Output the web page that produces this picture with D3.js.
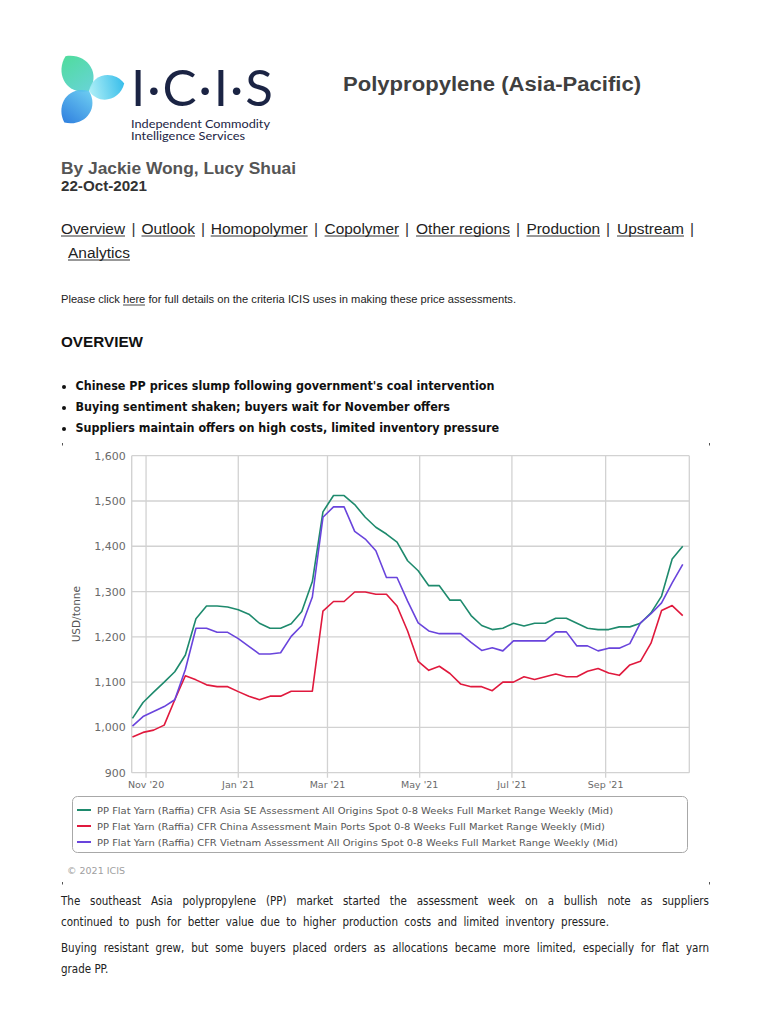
<!DOCTYPE html>
<html><head><meta charset="utf-8">
<script src="https://cdn.jsdelivr.net/npm/d3@7"></script>
<style>
html,body{margin:0;padding:0;background:#fff;}
svg{display:block;}
</style></head>
<body>
<svg id="page" width="768" height="1024"></svg>
<script>
// ---------------- DATA ----------------
const weekDates = ["2020-10-23","2020-10-30","2020-11-06","2020-11-13","2020-11-20","2020-11-27",
 "2020-12-04","2020-12-11","2020-12-18","2020-12-25","2021-01-01","2021-01-08","2021-01-15",
 "2021-01-22","2021-01-29","2021-02-05","2021-02-12","2021-02-19","2021-02-26","2021-03-05",
 "2021-03-12","2021-03-19","2021-03-26","2021-04-02","2021-04-09","2021-04-16","2021-04-23",
 "2021-04-30","2021-05-07","2021-05-14","2021-05-21","2021-05-28","2021-06-04","2021-06-11",
 "2021-06-18","2021-06-25","2021-07-02","2021-07-09","2021-07-16","2021-07-23","2021-07-30",
 "2021-08-06","2021-08-13","2021-08-20","2021-08-27","2021-09-03","2021-09-10","2021-09-17",
 "2021-09-24","2021-10-01","2021-10-08","2021-10-15","2021-10-22"];
const asiaSE = [1020,1055,1078,1100,1123,1160,1240,1268,1268,1266,1260,1250,1230,1219,1219,1229,1256,1322,
 1476,1512,1512,1492,1464,1442,1427,1409,1368,1346,1313,1313,1281,1281,1247,1225,1216,
 1219,1230,1224,1230,1230,1241,1241,1230,1219,1216,1216,1222,1222,1230,1253,1290,1372,1400];
const chinaMain = [979,989,994,1005,1061,1114,1105,1094,1090,1090,1079,1069,1061,1069,1069,1080,1080,1080,
 1257,1278,1278,1299,1299,1294,1294,1268,1213,1146,1126,1135,1119,1096,1090,1090,1081,
 1100,1100,1112,1106,1112,1118,1112,1112,1124,1130,1120,1115,1138,1146,1186,1258,1269,1247];
const vietnam = [1003,1024,1035,1046,1061,1128,1219,1219,1210,1210,1196,1179,1162,1162,1165,1201,1225,1288,
 1464,1487,1487,1433,1416,1390,1331,1331,1279,1231,1213,1207,1207,1207,1188,1170,1176,
 1169,1191,1191,1191,1191,1211,1211,1180,1180,1169,1175,1175,1185,1231,1251,1275,1319,1360];
const yTicks = [900,1000,1100,1200,1300,1400,1500,1600];
const monthTicks = ["2020-11-01","2021-01-01","2021-03-01","2021-05-01","2021-07-01","2021-09-01"];
const monthLabels = ["Nov '20","Jan '21","Mar '21","May '21","Jul '21","Sep '21"];
const seriesNames = [
 "PP Flat Yarn (Raffia) CFR Asia SE Assessment All Origins Spot 0-8 Weeks Full Market Range Weekly (Mid)",
 "PP Flat Yarn (Raffia) CFR China Assessment Main Ports Spot 0-8 Weeks Full Market Range Weekly (Mid)",
 "PP Flat Yarn (Raffia) CFR Vietnam Assessment All Origins Spot 0-8 Weeks Full Market Range Weekly (Mid)"];
const seriesColors = ["#1e8a6d","#e0193d","#6944dc"];
const seriesValues = [asiaSE, chinaMain, vietnam];

// ---------------- PAGE ----------------
const svg = d3.select("#page");
svg.append("rect").attr("width",768).attr("height",1024).attr("fill","#fff");
const SANS = "'Liberation Sans', Arial, sans-serif";
const COND = "'DejaVu Sans Condensed','Liberation Sans',sans-serif";
const CHARTF = "'DejaVu Sans', Verdana, sans-serif";

function txt(x, y, s, o = {}) {
  const t = svg.append("text").attr("x", x).attr("y", y).text(s)
    .attr("font-family", o.family || SANS).attr("font-size", o.size || 14)
    .attr("font-weight", o.weight || "normal").attr("fill", o.fill || "#222");
  if (o.anchor) t.attr("text-anchor", o.anchor);
  if (o.len) t.attr("textLength", o.len).attr("lengthAdjust", o.adj || "spacingAndGlyphs");
  return t;
}

// Logo petals
const defs = svg.append("defs");
function grad(id, c1, c2) {
  const g = defs.append("linearGradient").attr("id", id).attr("x1", 0).attr("y1", 0).attr("x2", 1).attr("y2", 0);
  g.append("stop").attr("offset", "0%").attr("stop-color", c1);
  g.append("stop").attr("offset", "100%").attr("stop-color", c2);
}
grad("pg1", "#56cfd0", "#3dd894");
grad("pg2", "#a6eef6", "#22b6e8");
grad("pg3", "#5cc6f0", "#1a74dc");
const logo = svg.append("g");
const petals = [
  {ang: -124, L: 42, w: 21, f: "url(#pg1)"},
  {ang: -12, L: 36, w: 17, f: "url(#pg2)"},
  {ang: 128, L: 40, w: 20, f: "url(#pg3)"}
];
petals.forEach(p => {
  const L = p.L, w = p.w;
  logo.append("path")
    .attr("d", `M0,0 C${L*0.2},${-w} ${L*0.8},${-w*0.9} ${L},0 C${L*0.8},${w*0.9} ${L*0.2},${w} 0,0 Z`)
    .attr("transform", `translate(89,91) rotate(${p.ang})`)
    .attr("fill", p.f).attr("opacity", 0.9);
});
txt(131, 106, "I·C·I·S", {family: "Lato, 'Open Sans', sans-serif", size: 51, weight: 400, fill: "#1b2444", len: 142, adj: "spacing"});
txt(131, 127.5, "Independent Commodity", {family: "Lato, sans-serif", size: 11.5, fill: "#1b2444", len: 139});
txt(131, 140, "Intelligence Services", {family: "Lato, sans-serif", size: 11.5, fill: "#1b2444", len: 114});

txt(343, 91, "Polypropylene (Asia-Pacific)", {size: 20, weight: "bold", fill: "#3f3f3f", len: 298});
txt(61, 174, "By Jackie Wong, Lucy Shuai", {size: 16, weight: "bold", fill: "#555", len: 235});
txt(61, 191, "22-Oct-2021", {size: 14, weight: "bold", fill: "#333", len: 86});

// Nav
const navItems = [
  {s: "Overview", x: 61, w: 64, y: 233.5}, {s: "Outlook", x: 141.5, w: 53.5, y: 233.5},
  {s: "Homopolymer", x: 210.7, w: 97, y: 233.5}, {s: "Copolymer", x: 324.6, w: 74.5, y: 233.5},
  {s: "Other regions", x: 416, w: 94, y: 233.5}, {s: "Production", x: 526.5, w: 73.5, y: 233.5},
  {s: "Upstream", x: 617, w: 67, y: 233.5}, {s: "Analytics", x: 68, w: 62, y: 257.5}];
navItems.forEach(n => {
  txt(n.x, n.y, n.s, {size: 15.5, fill: "#222", len: n.w});
  svg.append("line").attr("x1", n.x).attr("x2", n.x + n.w).attr("y1", n.y + 2.5).attr("y2", n.y + 2.5)
    .attr("stroke", "#333").attr("stroke-width", 1);
});
[133.5, 203, 316, 407, 518, 608, 692].forEach(x => txt(x, 233.5, "|", {size: 15.5, fill: "#333", anchor: "middle"}));

const pc = txt(61, 303, null, {family: "'Liberation Sans Narrow','Liberation Sans',sans-serif", size: 11.5, fill: "#222", len: 455});
pc.append("tspan").text("Please click ");
pc.append("tspan").text("here");
pc.append("tspan").text(" for full details on the criteria ICIS uses in making these price assessments.");
svg.append("line").attr("x1", 123).attr("x2", 145).attr("y1", 305).attr("y2", 305).attr("stroke", "#333").attr("stroke-width", 0.9);

txt(61, 347, "OVERVIEW", {size: 14, weight: "bold", fill: "#111", len: 82});

const bullets = [
  {s: "Chinese PP prices slump following government's coal intervention", w: 419},
  {s: "Buying sentiment shaken; buyers wait for November offers", w: 374.5},
  {s: "Suppliers maintain offers on high costs, limited inventory pressure", w: 423.5}];
bullets.forEach((b, i) => {
  const y = 390 + i * 21;
  svg.append("circle").attr("cx", 64).attr("cy", y - 3).attr("r", 2).attr("fill", "#111");
  txt(75.5, y, b.s, {family: COND, size: 12, weight: "bold", fill: "#111", len: b.w});
});

// tiny marks
[[62, 445], [709, 445], [62, 884], [709, 884]].forEach(p =>
  svg.append("rect").attr("x", p[0]).attr("y", p[1] - 2).attr("width", 1).attr("height", 2.5).attr("fill", "#555"));

// ---------------- CHART ----------------
const parse = d3.timeParse("%Y-%m-%d");
const dates = weekDates.map(parse);
const L = 131.7, R = 689.3, T = 455.7, B = 772.7;
const x = d3.scaleTime().domain([new Date(2020, 9, 22, 12), new Date(2021, 9, 26, 8)]).range([L, R]);
const y = d3.scaleLinear().domain([900, 1600]).range([B, T]);
const chart = svg.append("g");
const GRID = "#d2d2d2";

chart.selectAll(".hg").data(yTicks).join("line")
  .attr("x1", L).attr("x2", R).attr("y1", d => y(d)).attr("y2", d => y(d))
  .attr("stroke", GRID).attr("stroke-width", 1.3);
const mt = monthTicks.map(parse);
chart.selectAll(".vg").data(mt).join("line")
  .attr("x1", d => x(d)).attr("x2", d => x(d)).attr("y1", T).attr("y2", B + 5)
  .attr("stroke", GRID).attr("stroke-width", 1.3);
chart.append("line").attr("x1", L).attr("x2", L).attr("y1", T).attr("y2", B).attr("stroke", GRID).attr("stroke-width", 1.4);
chart.append("line").attr("x1", R).attr("x2", R).attr("y1", T).attr("y2", B).attr("stroke", GRID).attr("stroke-width", 1.3);

const fmt = d3.format(",");
chart.selectAll(".yl").data(yTicks).join("text")
  .attr("x", L - 6).attr("y", d => y(d)).attr("dy", "0.36em").attr("text-anchor", "end")
  .attr("font-family", CHARTF).attr("font-size", 11).attr("fill", "#6a6a6a").text(d => fmt(d));
chart.selectAll(".xl").data(mt).join("text")
  .attr("x", d => x(d)).attr("y", 787.5).attr("text-anchor", "middle")
  .attr("font-family", CHARTF).attr("font-size", 9.5).attr("fill", "#6a6a6a")
  .text((d, i) => monthLabels[i]);
chart.append("text").attr("transform", `translate(80,${(T + B) / 2}) rotate(-90)`)
  .attr("text-anchor", "middle").attr("font-family", CHARTF).attr("font-size", 10.5)
  .attr("fill", "#555").text("USD/tonne");

const line = d3.line().x((d, i) => x(dates[i])).y(d => y(d));
seriesValues.forEach((vals, k) => {
  chart.append("path").datum(vals).attr("d", line).attr("fill", "none")
    .attr("stroke", seriesColors[k]).attr("stroke-width", 1.6).attr("stroke-linejoin", "round");
});

chart.append("rect").attr("x", 72.5).attr("y", 796.5).attr("width", 615).attr("height", 56).attr("rx", 5)
  .attr("fill", "none").attr("stroke", "#a8a8a8").attr("stroke-width", 1);
const legW = [516, 508, 521];
seriesNames.forEach((n, k) => {
  const ly = 810 + k * 16;
  chart.append("line").attr("x1", 77).attr("x2", 91).attr("y1", ly).attr("y2", ly)
    .attr("stroke", seriesColors[k]).attr("stroke-width", 2);
  chart.append("text").attr("x", 97).attr("y", ly + 3.5).attr("font-family", CHARTF)
    .attr("font-size", 9.5).attr("fill", "#555").attr("textLength", legW[k])
    .attr("lengthAdjust", "spacingAndGlyphs").text(n);
});
txt(67, 874, "© 2021 ICIS", {family: CHARTF, size: 9.5, fill: "#a0a0a0", len: 58});

// ---------------- PARAGRAPH ----------------
function justify(str, x0, x1, yb) {
  const words = str.split(" ");
  const ts = words.map(w => svg.append("text").attr("y", yb).text(w)
    .attr("font-family", COND).attr("font-size", 11.5).attr("fill", "#222"));
  const ws = ts.map(t => t.node().getComputedTextLength());
  const gap = words.length > 1 ? (x1 - x0 - d3.sum(ws)) / (words.length - 1) : 0;
  let cx = x0;
  ts.forEach((t, i) => { t.attr("x", cx); cx += ws[i] + gap; });
}
justify("The southeast Asia polypropylene (PP) market started the assessment week on a bullish note as suppliers", 61, 709, 905);
justify("continued to push for better value due to higher production costs and limited inventory pressure.", 61, 609, 926);
justify("Buying resistant grew, but some buyers placed orders as allocations became more limited, especially for flat yarn", 61, 709, 952);
txt(61, 973, "grade PP.", {family: COND, size: 11.5, fill: "#222"});
</script>
</body></html>
